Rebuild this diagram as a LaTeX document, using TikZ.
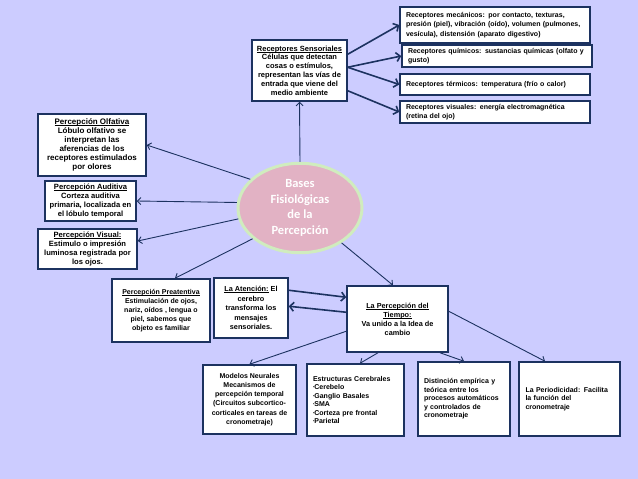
\documentclass[tikz,border=0pt]{standalone}
\usepackage{fontspec}
\setmainfont{Liberation Sans}
\newfontfamily\elipfont{Carlito}
\usetikzlibrary{arrows.meta,shapes.geometric}

\definecolor{fondo}{RGB}{204,204,255}
\definecolor{marino}{RGB}{28,50,96}
\definecolor{rosa}{RGB}{226,178,196}
\definecolor{brillo}{RGB}{208,236,190}

\newcommand{\lin}[1]{\makebox[178pt][s]{#1}}
\newcommand{\pto}{\raisebox{1pt}{\fontsize{4}{4}\selectfont•}}
\newcommand{\fs}[2]{\bfseries\fontsize{#1}{#2}\selectfont}
\newcommand{\subr}[1]{\setbox0\hbox{#1}\rlap{\rule[-1.1pt]{\wd0}{0.5pt}}\box0\relax}

\tikzset{
  caja/.style={draw=marino,line width=1.5pt,fill=white,align=center,inner sep=2pt},
  cajita/.style={text width=178pt,inner xsep=6pt,align=left,font=\fs{7}{9.5}},
  gruesa/.style={draw=marino,line width=1.6pt,-{Straight Barb[length=4pt,width=9pt]}},
  fina/.style={draw=marino,line width=0.9pt,-{Straight Barb[length=3.5pt,width=7pt]}}
}

\begin{document}
\begin{tikzpicture}[x=1pt,y=-1pt]

      \fill[fondo] (0,0) rectangle (638,479);

      \node[ellipse,minimum width=124pt,minimum height=80pt,fill=rosa,draw=brillo,line width=3pt,
            text=white,align=center,font=\elipfont\bfseries\fontsize{12.5}{15.5}\selectfont]
            (0) at (300,208) {Bases\\Fisiológicas\\de la\\Percepción};

      \begin{scope}[every node/.style={caja}]
        \node[cajita,minimum height=36pt] (1) at (495,25)
          {\lin{Receptores mecánicos: por contacto, texturas,}\\\lin{presión (piel), vibración (oído), volumen (pulmones,}\\vesícula), distensión (aparato digestivo)};
        \node[cajita,minimum height=22pt] (2) at (497,56)
          {\lin{Receptores químicos: sustancias químicas (olfato y}\\gusto)};
        \node[cajita,minimum height=21pt] (3) at (495,84.5)
          {Receptores térmicos: temperatura (frío o calor)};
        \node[cajita,minimum height=22pt] (4) at (495,112)
          {\lin{Receptores visuales: energía electromagnética}\\(retina del ojo)};

        \node[minimum width=95pt,minimum height=61pt,font=\fs{7.5}{8.8}] (5) at (299.5,70.5)
          {\subr{Receptores Sensoriales}\\Células que detectan\\cosas o estímulos,\\representan las vías de\\entrada que viene del\\medio ambiente};

        \node[minimum width=108pt,minimum height=62pt,font=\fs{8}{9}] (6) at (92,145)
          {\subr{Percepción Olfativa}\\Lóbulo olfativo se\\interpretan las\\aferencias de los\\receptores estimulados\\por olores};
        \node[minimum width=91pt,minimum height=40pt,font=\fs{7.6}{9}] (7) at (90.5,201)
          {\subr{Percepción Auditiva}\\Corteza auditiva\\primaria, localizada en\\el lóbulo temporal};
        \node[minimum width=99pt,minimum height=40pt,font=\fs{7.6}{8.8}] (8) at (87.5,249)
          {\subr{Percepción Visual:}\\Estimulo o impresión\\luminosa registrada por\\los ojos.};

        \node[minimum width=98pt,minimum height=63pt,font=\fs{7}{9}] (9) at (161,310.5)
          {\subr{Percepción Preatentiva}\\Estimulación de ojos,\\nariz, oídos , lengua o\\piel, sabemos que\\objeto es familiar};
        \node[minimum width=74pt,minimum height=60pt,font=\fs{7.3}{9.5}] (10) at (251,308)
          {\subr{La Atención:} El\\cerebro\\transforma los\\mensajes\\sensoriales.};
        \node[minimum width=101pt,minimum height=66pt,font=\fs{7.3}{9}] (11) at (397.5,319)
          {\subr{La Percepción del}\\\subr{Tiempo:}\\Va unido a la Idea de\\cambio};

        \node[minimum width=93pt,minimum height=69pt,font=\fs{7}{9.2}] (12) at (249.5,399.5)
          {Modelos Neurales\\Mecanismos de\\percepción temporal\\(Circuitos subcortico-\\corticales en tareas de\\cronometraje)};
        \node[minimum width=97pt,minimum height=72pt,text width=85pt,align=left,font=\fs{7}{8.4}] (13) at (355.5,400)
          {Estructuras Cerebrales\\\pto Cerebelo\\\pto Ganglio Basales\\\pto SMA\\\pto Corteza pre frontal\\\pto Parietal};
        \node[minimum width=92pt,minimum height=74pt,text width=80pt,align=left,font=\fs{7}{8.5}] (14) at (464,399)
          {Distinción empírica y\\teórica entre  los\\procesos automáticos\\y controlados de\\cronometraje};
        \node[minimum width=101pt,minimum height=74pt,text width=88pt,align=left,font=\fs{7}{8.2}] (15) at (569.5,399)
          {La Periodicidad: Facilita\\la función del\\cronometraje};
      \end{scope}

      \begin{scope}[every edge/.style={gruesa}]
        \path ([yshift=-15pt]5.north east) edge (1.west);
        \path ([yshift=-28pt]5.north east) edge (2.west);
        \path ([yshift=-28pt]5.north east) edge (3.west);
        \path ([yshift=11pt]5.south east)  edge (4.west);
        \path ([yshift=-13pt]10.north east) edge ([yshift=-12pt]11.north west);
        \path ([yshift=-27pt]11.north west) edge ([yshift=-29pt]10.north east);
      \end{scope}

      \begin{scope}[every edge/.style={fina}]
        \path (0.north) edge (5.south);
        \path (0.150) edge (6.east);
        \path (0.175) edge (7.east);
        \path (0.190) edge ([yshift=8pt]8.east);
        \path (0.213) edge ([xshift=14pt]9.north);
        \path (0.-40) edge ([xshift=-4.5pt]11.north);
        \path ([yshift=-46pt]11.north west) edge (12.north);
        \path ([xshift=-19.5pt]11.south) edge ([xshift=4.5pt]13.north);
        \path ([xshift=42.5pt]11.south) edge (14.north);
        \path ([yshift=-26pt]11.north east) edge ([xshift=-24.5pt]15.north);
      \end{scope}

    \end{tikzpicture}
\end{document}
